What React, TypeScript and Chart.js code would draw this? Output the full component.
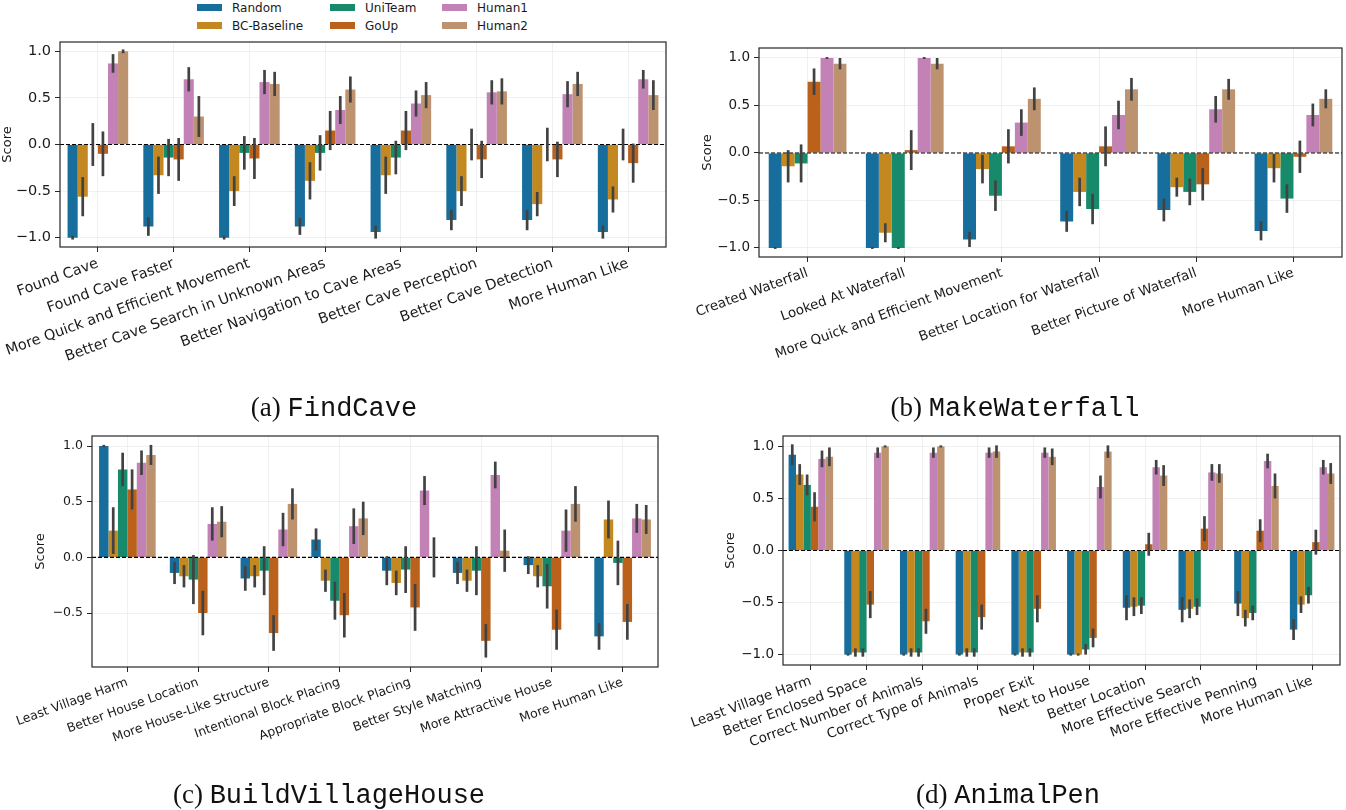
import { useEffect, useRef } from "react"
import { Chart, registerables, type Plugin } from "chart.js"

Chart.register(...registerables)

// series shared by all four panels (seaborn colorblind, desaturated 0.75)
const seriesNames = ["Random", "BC-Baseline", "UniTeam", "GoUp", "Human1", "Human2"]
const seriesColors = ["#176d9c", "#c38820", "#168a6a", "#ba611b", "#c282b5", "#bd926e"]

const fullTicks = [-1, -0.5, 0, 0.5, 1]
const houseTicks = [-0.5, 0, 0.5, 1]

// (a) FindCave
const caveCategories = [
  "Found Cave",
  "Found Cave Faster",
  "More Quick and Efficient Movement",
  "Better Cave Search in Unknown Areas",
  "Better Navigation to Cave Areas",
  "Better Cave Perception",
  "Better Cave Detection",
  "More Human Like",
]
const caveRandom = [-1.0, -0.88, -1.0, -0.88, -0.94, -0.81, -0.81, -0.94]
const caveRandomErr = [0.02, 0.1, 0.02, 0.09, 0.07, 0.11, 0.11, 0.07]
const caveBC = [-0.56, -0.33, -0.5, -0.39, -0.33, -0.5, -0.64, -0.59]
const caveBCErr = [0.21, 0.2, 0.16, 0.2, 0.2, 0.16, 0.13, 0.14]
const caveUniTeam = [0, -0.14, -0.09, -0.09, -0.14, 0, 0, 0]
const caveUniTeamErr = [0.23, 0.2, 0.18, 0.19, 0.18, 0.17, 0.18, 0.17]
const caveGoUp = [-0.1, -0.16, -0.15, 0.15, 0.15, -0.16, -0.16, -0.2]
const caveGoUpErr = [0.24, 0.23, 0.22, 0.21, 0.21, 0.2, 0.19, 0.21]
const caveHuman1 = [0.87, 0.7, 0.67, 0.37, 0.44, 0.56, 0.54, 0.7]
const caveHuman1Err = [0.1, 0.13, 0.13, 0.15, 0.14, 0.13, 0.14, 0.1]
const caveHuman2 = [1.0, 0.3, 0.65, 0.59, 0.53, 0.57, 0.65, 0.53]
const caveHuman2Err = [0.02, 0.22, 0.13, 0.14, 0.14, 0.14, 0.13, 0.16]

// (b) MakeWaterfall
const waterfallCategories = [
  "Created Waterfall",
  "Looked At Waterfall",
  "More Quick and Efficient Movement",
  "Better Location for Waterfall",
  "Better Picture of Waterfall",
  "More Human Like",
]
const waterfallRandom = [-1.0, -1.0, -0.91, -0.72, -0.6, -0.82]
const waterfallRandomErr = [0.01, 0.01, 0.08, 0.11, 0.12, 0.1]
const waterfallBC = [-0.14, -0.84, -0.17, -0.41, -0.36, -0.16]
const waterfallBCErr = [0.17, 0.1, 0.15, 0.15, 0.1, 0.15]
const waterfallUniTeam = [-0.11, -1.0, -0.45, -0.59, -0.41, -0.48]
const waterfallUniTeamErr = [0.2, 0.01, 0.16, 0.16, 0.14, 0.15]
const waterfallGoUp = [0.75, 0.03, 0.07, 0.07, -0.33, -0.04]
const waterfallGoUpErr = [0.14, 0.21, 0.18, 0.21, 0.17, 0.17]
const waterfallHuman1 = [1.0, 1.0, 0.32, 0.4, 0.46, 0.4]
const waterfallHuman1Err = [0.01, 0.01, 0.14, 0.15, 0.14, 0.12]
const waterfallHuman2 = [0.94, 0.94, 0.57, 0.67, 0.67, 0.57]
const waterfallHuman2Err = [0.06, 0.06, 0.12, 0.12, 0.11, 0.1]

// (c) BuildVillageHouse
const houseCategories = [
  "Least Village Harm",
  "Better House Location",
  "More House-Like Structure",
  "Intentional Block Placing",
  "Appropriate Block Placing",
  "Better Style Matching",
  "More Attractive House",
  "More Human Like",
]
const houseRandom = [1.0, -0.14, -0.19, 0.16, -0.12, -0.14, -0.07, -0.71]
const houseRandomErr = [0.01, 0.1, 0.11, 0.1, 0.13, 0.1, 0.08, 0.12]
const houseBC = [0.24, -0.17, -0.17, -0.21, -0.23, -0.21, -0.17, 0.34]
const houseBCErr = [0.21, 0.1, 0.1, 0.1, 0.11, 0.1, 0.1, 0.17]
const houseUniTeam = [0.79, -0.2, -0.12, -0.39, -0.11, -0.12, -0.26, -0.05]
const houseUniTeamErr = [0.15, 0.22, 0.22, 0.17, 0.21, 0.22, 0.2, 0.2]
const houseGoUp = [0.61, -0.5, -0.68, -0.52, -0.45, -0.75, -0.65, -0.58]
const houseGoUpErr = [0.18, 0.2, 0.16, 0.2, 0.21, 0.15, 0.18, 0.16]
const houseHuman1 = [0.85, 0.3, 0.25, 0.28, 0.6, 0.74, 0.24, 0.35]
const houseHuman1Err = [0.11, 0.15, 0.15, 0.16, 0.13, 0.12, 0.19, 0.13]
const houseHuman2 = [0.92, 0.32, 0.48, 0.35, 0, 0.06, 0.48, 0.34]
const houseHuman2Err = [0.09, 0.14, 0.14, 0.15, 0.18, 0.19, 0.16, 0.13]

// (d) AnimalPen
const penCategories = [
  "Least Village Harm",
  "Better Enclosed Space",
  "Correct Number of Animals",
  "Correct Type of Animals",
  "Proper Exit",
  "Next to House",
  "Better Location",
  "More Effective Search",
  "More Effective Penning",
  "More Human Like",
]
const penRandom = [0.92, -1.0, -1.0, -1.0, -1.0, -1.0, -0.55, -0.57, -0.51, -0.76]
const penRandomErr = [0.1, 0.01, 0.01, 0.01, 0.01, 0.01, 0.12, 0.12, 0.12, 0.1]
const penBC = [0.73, -0.98, -0.98, -0.98, -0.98, -1.0, -0.54, -0.56, -0.65, -0.52]
const penBCErr = [0.1, 0.04, 0.04, 0.04, 0.04, 0.01, 0.09, 0.09, 0.08, 0.08]
const penUniTeam = [0.63, -0.98, -0.98, -0.98, -0.98, -0.95, -0.53, -0.54, -0.6, -0.43]
const penUniTeamErr = [0.1, 0.04, 0.04, 0.04, 0.04, 0.05, 0.08, 0.08, 0.07, 0.08]
const penGoUp = [0.42, -0.52, -0.68, -0.64, -0.56, -0.84, 0.06, 0.21, 0.19, 0.08]
const penGoUpErr = [0.14, 0.13, 0.12, 0.12, 0.13, 0.09, 0.11, 0.12, 0.11, 0.12]
const penHuman1 = [0.88, 0.94, 0.94, 0.94, 0.94, 0.61, 0.8, 0.75, 0.86, 0.8]
const penHuman1Err = [0.08, 0.05, 0.05, 0.05, 0.05, 0.11, 0.07, 0.08, 0.07, 0.07]
const penHuman2 = [0.9, 1.0, 1.0, 0.95, 0.9, 0.95, 0.72, 0.74, 0.62, 0.74]
const penHuman2Err = [0.09, 0.01, 0.01, 0.06, 0.08, 0.06, 0.1, 0.09, 0.12, 0.1]

const FONT = "'DejaVu Sans', sans-serif"
const TEXT = "#1a1a1a"

// zero line, error bars and the full axes frame
const decorations: Plugin<"bar"> = {
  id: "decorations",
  afterDatasetsDraw(chart) {
    const { ctx, chartArea } = chart
    const y = chart.scales.y
    ctx.save()
    const y0 = y.getPixelForValue(0)
    ctx.strokeStyle = "#000"
    ctx.lineWidth = 1.2
    ctx.setLineDash([4, 2])
    ctx.beginPath()
    ctx.moveTo(chartArea.left, y0)
    ctx.lineTo(chartArea.right, y0)
    ctx.stroke()
    ctx.setLineDash([])

    ctx.strokeStyle = "#424242"
    ctx.lineWidth = 2.7
    chart.data.datasets.forEach((ds: any, i) => {
      const meta = chart.getDatasetMeta(i)
      meta.data.forEach((bar: any, j) => {
        const v = ds.data[j] as number
        const e = ds.errors[j] as number
        ctx.beginPath()
        ctx.moveTo(bar.x, y.getPixelForValue(v - e))
        ctx.lineTo(bar.x, y.getPixelForValue(v + e))
        ctx.stroke()
      })
    })

    ctx.strokeStyle = "#262626"
    ctx.lineWidth = 1.2
    ctx.strokeRect(chartArea.left, chartArea.top, chartArea.width, chartArea.height)
    ctx.restore()
  },
}

const fmt = (v: number) => (v < 0 ? "\u2212" : "") + Math.abs(v).toFixed(1)

interface PanelProps {
  left: number
  top: number
  width: number
  height: number
  area: { left: number; top: number; right: number; bottom: number }
  titleX: number
  fontSize: number
  categories: string[]
  values: number[][]
  errors: number[][]
  yMin: number
  yMax: number
  yTicks: number[]
}

function Panel(p: PanelProps) {
  const canvasRef = useRef<HTMLCanvasElement>(null)

  useEffect(() => {
    if (!canvasRef.current) return
    const titleSize = 13
    const yWidth = p.area.left - p.left
    const xHeight = p.top + p.height - p.area.bottom
    const titlePad = p.titleX - p.left - (titleSize * 1.2) / 2

    const chart = new Chart(canvasRef.current, {
      type: "bar",
      data: {
        labels: p.categories,
        datasets: seriesNames.map((name, i) => ({
          label: name,
          data: p.values[i],
          errors: p.errors[i],
          backgroundColor: seriesColors[i],
          borderWidth: 0,
          categoryPercentage: 0.8,
          barPercentage: 1.0,
        })) as any,
      },
      options: {
        responsive: false,
        animation: false,
        events: [],
        layout: {
          padding: { top: p.area.top - p.top, right: p.left + p.width - p.area.right, left: 0, bottom: 0 },
        },
        plugins: { legend: { display: false }, tooltip: { enabled: false } },
        scales: {
          x: {
            offset: true,
            border: { display: false },
            grid: { offset: false, color: "#ececec", lineWidth: 0.8, tickLength: 5, tickColor: "#262626", tickWidth: 1 },
            ticks: {
              autoSkip: false,
              minRotation: 20,
              maxRotation: 20,
              padding: 3,
              color: TEXT,
              font: { family: FONT, size: p.fontSize },
            },
            afterFit: (s: any) => {
              s.height = xHeight
              s.paddingLeft = 0
              s.paddingRight = 0
            },
          },
          y: {
            min: p.yMin,
            max: p.yMax,
            border: { display: false },
            afterBuildTicks: (s: any) => {
              s.ticks = p.yTicks.map((v) => ({ value: v }))
            },
            grid: { color: "#ececec", lineWidth: 0.8, tickLength: 5, tickColor: "#262626", tickWidth: 1 },
            ticks: {
              padding: 4,
              color: TEXT,
              font: { family: FONT, size: p.fontSize },
              callback: (v: any) => fmt(Number(v)),
            },
            title: {
              display: true,
              text: "Score",
              color: TEXT,
              padding: { top: titlePad, bottom: 0 },
              font: { family: FONT, size: titleSize },
            },
            afterFit: (s: any) => {
              s.width = yWidth
              s.paddingTop = 0
              s.paddingBottom = 0
            },
          },
        },
      },
      plugins: [decorations],
    })

    return () => chart.destroy()
  }, [p])

  return (
    <div style={{ position: "absolute", left: p.left, top: p.top, width: p.width, height: p.height }}>
      <canvas ref={canvasRef} width={p.width} height={p.height} />
    </div>
  )
}

function Caption({ cx, cy, tag, name }: { cx: number; cy: number; tag: string; name: string }) {
  return (
    <div
      style={{
        position: "absolute",
        left: cx - 250,
        width: 500,
        top: cy - 15,
        height: 30,
        lineHeight: "30px",
        textAlign: "center",
        fontSize: 27,
        color: "#111",
        whiteSpace: "nowrap",
      }}
    >
      <span style={{ fontFamily: "'Liberation Serif', serif" }}>{tag} </span>
      <span style={{ fontFamily: "'Liberation Mono', monospace" }}>{name}</span>
    </div>
  )
}

const legendColumns = [197, 330, 442]
const legendRows = [7.5, 25.5]

function Legend() {
  return (
    <>
      {seriesNames.map((name, i) => {
        const col = Math.floor(i / 2)
        const row = i % 2
        const x = legendColumns[col]
        const y = legendRows[row]
        return (
          <div key={name}>
            <div
              style={{ position: "absolute", left: x, top: y - 3.5, width: 25, height: 7, background: seriesColors[i] }}
            />
            <div
              style={{
                position: "absolute",
                left: x + 35,
                top: y - 8,
                height: 16,
                lineHeight: "16px",
                fontFamily: FONT,
                fontSize: 12,
                color: TEXT,
                whiteSpace: "nowrap",
              }}
            >
              {name}
            </div>
          </div>
        )
      })}
    </>
  )
}

const panelA: PanelProps = {
  left: 0, top: 30, width: 680, height: 400,
  area: { left: 60, top: 42, right: 666, bottom: 247 },
  titleX: 8, fontSize: 14.5,
  categories: caveCategories,
  values: [caveRandom, caveBC, caveUniTeam, caveGoUp, caveHuman1, caveHuman2],
  errors: [caveRandomErr, caveBCErr, caveUniTeamErr, caveGoUpErr, caveHuman1Err, caveHuman2Err],
  yMin: -1.1, yMax: 1.1, yTicks: fullTicks,
}

const panelB: PanelProps = {
  left: 680, top: 30, width: 666, height: 400,
  area: { left: 759, top: 48, right: 1342, bottom: 257 },
  titleX: 708, fontSize: 13.5,
  categories: waterfallCategories,
  values: [waterfallRandom, waterfallBC, waterfallUniTeam, waterfallGoUp, waterfallHuman1, waterfallHuman2],
  errors: [waterfallRandomErr, waterfallBCErr, waterfallUniTeamErr, waterfallGoUpErr, waterfallHuman1Err, waterfallHuman2Err],
  yMin: -1.095, yMax: 1.105, yTicks: fullTicks,
}

const panelC: PanelProps = {
  left: 0, top: 430, width: 680, height: 380,
  area: { left: 92, top: 436, right: 658, bottom: 667 },
  titleX: 41, fontSize: 12.5,
  categories: houseCategories,
  values: [houseRandom, houseBC, houseUniTeam, houseGoUp, houseHuman1, houseHuman2],
  errors: [houseRandomErr, houseBCErr, houseUniTeamErr, houseGoUpErr, houseHuman1Err, houseHuman2Err],
  yMin: -0.985, yMax: 1.09, yTicks: houseTicks,
}

const panelD: PanelProps = {
  left: 680, top: 430, width: 666, height: 380,
  area: { left: 783, top: 436, right: 1340, bottom: 665 },
  titleX: 731, fontSize: 13.5,
  categories: penCategories,
  values: [penRandom, penBC, penUniTeam, penGoUp, penHuman1, penHuman2],
  errors: [penRandomErr, penBCErr, penUniTeamErr, penGoUpErr, penHuman1Err, penHuman2Err],
  yMin: -1.1, yMax: 1.1, yTicks: fullTicks,
}

export default function App() {
  return (
    <div style={{ position: "absolute", left: 0, top: 0, width: 1346, height: 810, background: "#fff", overflow: "hidden" }}>
      <Legend />
      <Panel {...panelA} />
      <Panel {...panelB} />
      <Panel {...panelC} />
      <Panel {...panelD} />
      <Caption cx={334} cy={407} tag="(a)" name="FindCave" />
      <Caption cx={1015} cy={407} tag="(b)" name="MakeWaterfall" />
      <Caption cx={329} cy={794} tag="(c)" name="BuildVillageHouse" />
      <Caption cx={1008} cy={794} tag="(d)" name="AnimalPen" />
    </div>
  )
}
